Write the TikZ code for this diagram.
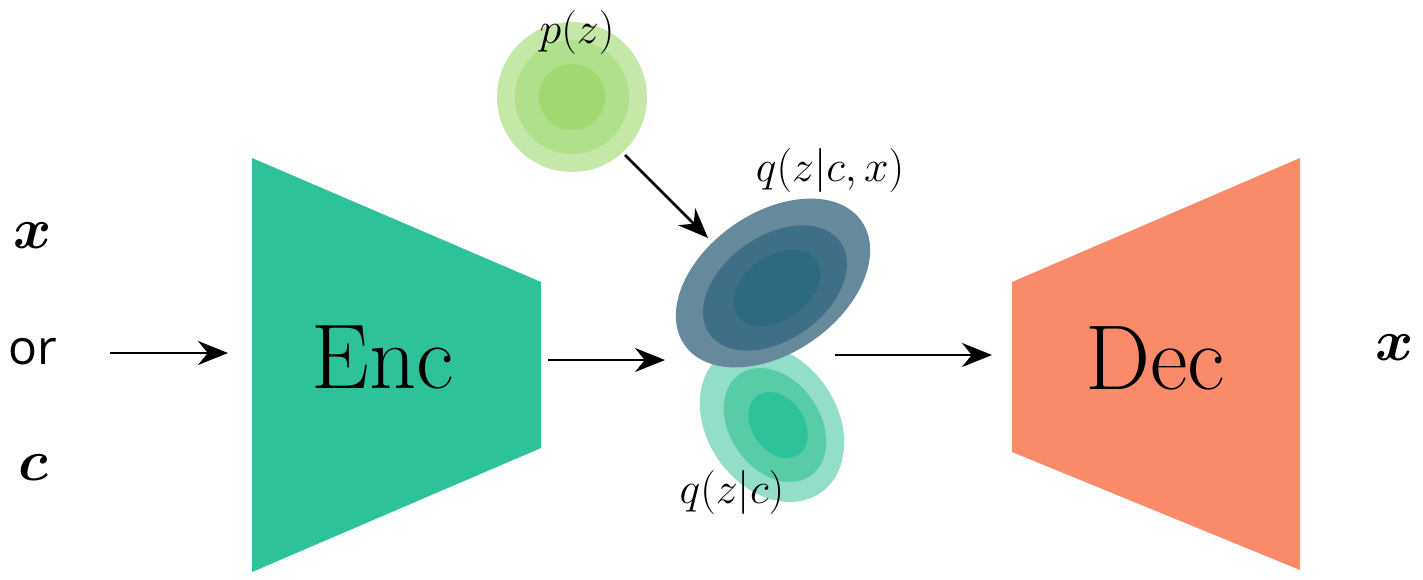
\RequirePackage{fix-cm}
\documentclass[tikz,border=0pt]{standalone}
\usepackage{amsmath,bm}
\usepackage{fontspec}
\setsansfont{Open Sans}
\usetikzlibrary{arrows.meta}
\begin{document}
\begin{tikzpicture}[x=1pt,y=-1pt,
  arr/.style={-{Stealth[length=30pt,width=24pt]},line width=2.8pt},
  lbl/.style={font=\fontsize{44}{50}\selectfont}]
\useasboundingbox (0,0) rectangle (1423,579);
\fill[fill={rgb,255:red,46;green,194;blue,154}] (252,158) -- (541,282) -- (541,448) -- (252,572) -- cycle;
\fill[fill={rgb,255:red,249;green,139;blue,107}] (1012,282) -- (1300,158) -- (1300,570) -- (1012,452) -- cycle;
\node (enc) at (383,358) {\fontsize{92}{100}\selectfont Enc};
\node (dec) at (1155,358) {\fontsize{92}{100}\selectfont Dec};
\node (x1) at (33,236) {\fontsize{58}{66}\selectfont $\bm{x}$};
\node (or) at (33,352) {\fontsize{48}{55}\selectfont\sffamily or};
\node (c1) at (33,468) {\fontsize{58}{66}\selectfont $\bm{c}$};
\node (x2) at (1395,348) {\fontsize{58}{66}\selectfont $\bm{x}$};
% p(z)
\fill[fill={rgb,255:red,197;green,232;blue,168}] (572,97) circle (75);
\fill[fill={rgb,255:red,176;green,224;blue,140}] (572,97) circle (57);
\fill[fill={rgb,255:red,160;green,216;blue,114}] (572,97) circle (33);
\node[lbl] (pz) at (577,32) {$p(z)$};
% q(z|c)
\fill[fill={rgb,255:red,147;green,222;blue,200}, rotate around={-55:(772,423)}] (772,423) ellipse (85 and 65);
\fill[fill={rgb,255:red,88;green,203;blue,167}, rotate around={-55:(775,425)}] (775,425) ellipse (62 and 45);
\fill[fill={rgb,255:red,46;green,194;blue,154}, rotate around={-55:(778,425)}] (778,425) ellipse (36 and 26);
% q(z|c,x)
\fill[fill={rgb,255:red,102;green,138;blue,156}, rotate around={35:(773,283)}] (773,283) ellipse (108 and 70);
\fill[fill={rgb,255:red,63;green,111;blue,134}, rotate around={35:(775,288)}] (775,288) ellipse (80 and 52);
\fill[fill={rgb,255:red,45;green,106;blue,128}, rotate around={35:(777,288)}] (777,288) ellipse (48 and 32);
\node[lbl] (qcx) at (830,170) {$q(z|c,x)$};
\node[lbl] (qc) at (732,492) {$q(z|c)$};
\coordinate (a1) at (110,353); \coordinate (a2) at (228,353);
\coordinate (b1) at (548,360); \coordinate (b2) at (665,360);
\coordinate (c1s) at (835,355); \coordinate (c2) at (992,355);
\coordinate (d1) at (625,155); \coordinate (d2) at (708,238);
\draw[arr] (a1) -- (a2);
\draw[arr] (b1) -- (b2);
\draw[arr] (c1s) -- (c2);
\draw[arr] (d1) -- (d2);
\end{tikzpicture}
\end{document}
